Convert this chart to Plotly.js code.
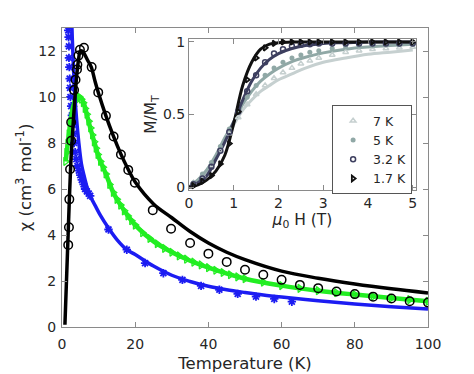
<!DOCTYPE html>
<html><head><meta charset="utf-8">
<script src="https://cdn.plot.ly/plotly-3.0.1.min.js"></script>
<style>html,body{margin:0;padding:0;background:#fff}#p{width:474px;height:374px}</style>
</head><body><div id="p"></div>
<script>
// ---- Main panel: chi vs T ----
var blueT   = [1.7,1.8,1.9,1.9,2.0,2.1,2.2,2.3,2.5,2.7,2.9,3.1,3.3,3.6,3.9,4.2,4.6,5.0,5.4,5.9,6.3,6.8,7.3,7.7,12.7,17.7,22.7,27.7,32.9,38,43,48,53,58,62.8];
var blueChi = [12.9,12.6,12.2,11.7,11.3,10.8,10.4,10.0,9.6,9.2,8.8,8.4,8.0,7.6,7.3,7.0,6.8,6.6,6.4,6.2,6.0,5.9,5.8,5.7,4.24,3.36,2.78,2.34,2.05,1.79,1.62,1.44,1.32,1.22,1.1];
var blueFitT   = [2.6,2.8,3.1,3.5,4.0,4.6,5.3,6.0,7.0,8.0,9.0,10.5,12.7,15,17.7,20,25,30,35,40,45,50,55,60,70,80,90,100];
var blueFitChi = [13.6,12.6,11.4,10.1,9.0,8.0,7.1,6.6,6.0,5.6,5.3,4.85,4.3,3.8,3.36,3.15,2.65,2.25,1.98,1.77,1.62,1.5,1.39,1.3,1.14,1.0,0.88,0.78];

var greenT   = [1.0,1.3,1.6,1.9,2.2,2.5,2.8,3.1,3.5,3.9,4.3,4.8,5.3,5.8,6.3,6.8,7.3,7.8,8.3,8.8,9.3,9.8,10.5,11.2,12,13,14,15,16,17,18,19,20,22,24,26,28,30,32,34,36,38,40,42,44,46,48,50,55,60,65,70,75,80,85,90,95,100];
var greenChi = [7.2,7.6,8.0,8.4,8.8,9.1,9.4,9.6,9.8,9.95,10.0,10.0,9.9,9.75,9.5,9.25,8.95,8.65,8.35,8.05,7.77,7.5,7.2,6.95,6.65,6.2,5.85,5.55,5.3,5.05,4.83,4.62,4.43,4.1,3.85,3.62,3.42,3.25,3.09,2.95,2.82,2.7,2.58,2.47,2.37,2.27,2.18,2.1,1.95,1.8,1.68,1.58,1.49,1.41,1.33,1.26,1.19,1.12];
var greenFitT   = [1.0,2,3,4,5,6,7,8,9,10,12,14,16,18,20,25,30,35,40,50,60,70,80,90,100];
var greenFitChi = [7.2,8.5,9.55,9.95,10.0,9.7,9.1,8.5,7.95,7.4,6.65,5.85,5.3,4.83,4.43,3.72,3.25,2.88,2.58,2.1,1.8,1.58,1.41,1.26,1.12];

var blackT   = [1.7,1.9,2.0,2.2,2.5,2.5,3.3,3.7,4.1,4.2,4.5,4.9,6.0,8.1,9.9,12.0,14.1,16.1,18.1,19.9,24.8,29.8,35,40,45,50,55,60,65,70,75,80,85,90,95,100];
var blackChi = [3.57,4.34,5.55,6.86,8.1,8.9,10.3,10.75,11.2,11.4,11.8,12.05,12.14,11.3,10.2,9.18,8.28,7.5,6.83,6.27,5.08,4.27,3.65,3.19,2.83,2.49,2.27,2.05,1.83,1.69,1.54,1.43,1.32,1.24,1.12,1.06];
var blackFitT   = [0.8,1.2,1.6,2.0,2.4,2.8,3.2,3.6,4.0,4.5,5.0,5.5,6,7,8,9,10,12,14,16,18,20,25,30,35,40,45,50,60,70,80,90,100];
var blackFitChi = [0.1,1.9,3.7,5.5,7.1,8.2,9.2,10.1,10.9,11.6,12.0,12.0,11.9,11.6,11.3,10.7,10.15,9.18,8.32,7.55,6.88,6.3,5.35,4.75,4.15,3.65,3.25,2.93,2.43,2.12,1.87,1.66,1.48];

// ---- Inset: M/MT vs mu0 H ----
var fitH   = [0,0.2,0.4,0.6,0.8,1.0,1.2,1.4,1.6,1.8,2.0,2.3,2.6,3.0,3.5,4.0,4.5,5.0];
var fit7K  = [0,0.05,0.11,0.2,0.32,0.43,0.53,0.6,0.66,0.7,0.74,0.78,0.82,0.86,0.89,0.915,0.93,0.945];
var fit5K  = [0,0.05,0.12,0.22,0.34,0.45,0.57,0.66,0.73,0.78,0.82,0.865,0.895,0.925,0.95,0.965,0.975,0.985];
var fit32K = [0,0.03,0.08,0.19,0.31,0.45,0.6,0.73,0.82,0.88,0.92,0.955,0.975,0.99,0.995,1,1,1];
var fit17K = [0,0.015,0.05,0.11,0.22,0.44,0.70,0.86,0.95,0.985,0.995,1,1,1,1,1,1,1];

var dataH  = [0.1,0.3,0.5,0.7,0.9,1.1,1.3,1.5,1.7,1.9,2.1,2.3,2.5,2.7,2.9,3.2,3.5,3.8,4.1,4.4,4.7,5.0];
var data7K  = [0.03,0.08,0.15,0.25,0.37,0.48,0.57,0.64,0.7,0.75,0.79,0.82,0.85,0.87,0.89,0.91,0.93,0.94,0.95,0.955,0.96,0.965];
var data5K  = [0.03,0.09,0.17,0.28,0.40,0.52,0.62,0.70,0.77,0.82,0.86,0.89,0.91,0.93,0.94,0.955,0.965,0.97,0.975,0.98,0.98,0.985];
var data32K = [0.02,0.06,0.14,0.25,0.38,0.52,0.66,0.77,0.86,0.92,0.95,0.97,0.98,0.985,0.99,0.99,0.99,0.99,0.99,0.99,0.99,0.99];
var data17K = [0.01,0.04,0.08,0.16,0.30,0.52,0.74,0.89,0.96,0.99,1.0,1.0,1.0,1.0,1.0,1.0,1.0,1.0,1.0,1.0,1.0,1.0];

var legendNames = ['7 K','5 K','3.2 K','1.7 K'];

var BLUE='#1c1cf2', GREEN='#22ee22', BLACK='#000000';
var C7='#c6d0d0', C5='#90a8a6', C32='#3d3f5f', C17='#111111';
var F='DejaVu Sans, sans-serif';

var traces = [
  {x:greenT,y:greenChi,mode:'markers',marker:{symbol:'triangle-right-open',size:7,color:GREEN,line:{width:1.3}},showlegend:false},
  {x:blueT,y:blueChi,mode:'markers',marker:{symbol:'asterisk-open',size:7,color:BLUE,line:{width:1.8,color:BLUE}},showlegend:false},
  {x:greenFitT,y:greenFitChi,mode:'lines',line:{color:GREEN,width:4.5,shape:'spline'},showlegend:false},
  {x:blueFitT,y:blueFitChi,mode:'lines',line:{color:BLUE,width:3.5,shape:'spline'},showlegend:false},
  {x:blackFitT,y:blackFitChi,mode:'lines',line:{color:BLACK,width:3.5,shape:'spline'},showlegend:false},
  {x:blackT,y:blackChi,mode:'markers',marker:{symbol:'circle-open',size:8.5,color:BLACK,line:{width:1.5}},showlegend:false},

  {x:fitH,y:fit7K,xaxis:'x2',yaxis:'y2',mode:'lines',line:{color:C7,width:3,shape:'spline'},showlegend:false},
  {x:fitH,y:fit5K,xaxis:'x2',yaxis:'y2',mode:'lines',line:{color:C5,width:3,shape:'spline'},showlegend:false},
  {x:fitH,y:fit32K,xaxis:'x2',yaxis:'y2',mode:'lines',line:{color:C32,width:3,shape:'spline'},showlegend:false},
  {x:fitH,y:fit17K,xaxis:'x2',yaxis:'y2',mode:'lines',line:{color:C17,width:3,shape:'spline'},showlegend:false},
  {x:dataH,y:data7K,xaxis:'x2',yaxis:'y2',mode:'markers',name:legendNames[0],marker:{symbol:'triangle-up-open',size:5,color:C7,line:{width:1.5}}},
  {x:dataH,y:data5K,xaxis:'x2',yaxis:'y2',mode:'markers',name:legendNames[1],marker:{symbol:'circle',size:5,color:C5}},
  {x:dataH,y:data32K,xaxis:'x2',yaxis:'y2',mode:'markers',name:legendNames[2],marker:{symbol:'circle-open',size:5,color:C32,line:{width:1.5}}},
  {x:dataH,y:data17K,xaxis:'x2',yaxis:'y2',mode:'markers',name:legendNames[3],marker:{symbol:'triangle-right-open',size:5,color:C17,line:{width:1.8}}}
];

var ax = {showline:true,linecolor:'#8a8a8a',linewidth:1,mirror:'ticks',ticks:'inside',ticklen:5,tickcolor:'#8a8a8a',
          showgrid:false,zeroline:false,tickfont:{family:F,size:14,color:'#262626'}};

var layout = {
  width:474,height:374,margin:{l:62,r:46,t:28,b:47},
  paper_bgcolor:'#fff',plot_bgcolor:'#fff',
  font:{family:F,color:'#262626'},
  xaxis:Object.assign({},ax,{range:[0,100],tickvals:[0,20,40,60,80,100],ticklabelstandoff:4,
        title:{text:'Temperature (K)',font:{family:F,size:16.5,color:'#262626'},standoff:6}}),
  yaxis:Object.assign({},ax,{range:[0,13],tickvals:[0,2,4,6,8,10,12],ticklabelstandoff:2,
        title:{text:'χ (cm<sup>3</sup> mol<sup>-1</sup>)',font:{family:F,size:16.5,color:'#262626'},standoff:2}}),
  xaxis2:Object.assign({},ax,{domain:[0.347,0.967],anchor:'y2',range:[0,5.07],tickvals:[0,1,2,3,4,5],
        title:{text:'<i>μ</i><sub>0</sub> H (T)',font:{family:F,size:15.5,color:'#262626'},standoff:2}}),
  yaxis2:Object.assign({},ax,{domain:[0.458,0.963],anchor:'x2',range:[-0.02,1.02],tickvals:[0,0.5,1],
        title:{text:'M/M<sub>T</sub>',font:{family:F,size:15.5,color:'#262626'},standoff:2}}),
  showlegend:true,
  legend:{x:0.738,y:0.742,xanchor:'left',yanchor:'top',bgcolor:'#fff',bordercolor:'#555',borderwidth:1,
          font:{family:F,size:12.5,color:'#262626'},itemwidth:30,tracegroupgap:0}
};

Plotly.newPlot('p',traces,layout,{staticPlot:true,displayModeBar:false});
</script></body></html>
